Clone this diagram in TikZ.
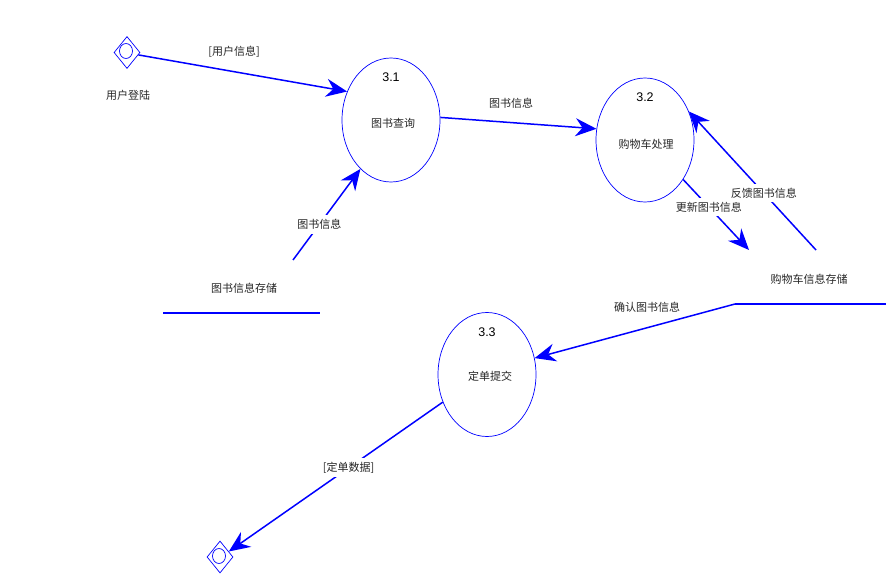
\documentclass[tikz,border=0pt]{standalone}
\usepackage{fontspec}
\setmainfont{Liberation Sans}
\newfontfamily\cjk{Noto Sans CJK SC}
\usepackage{xcolor}
\definecolor{dfdblue}{RGB}{0,0,255}
\usepackage{tikz}
\usetikzlibrary{arrows.meta,positioning,shapes.geometric}

\begin{document}
\begin{tikzpicture}[
      x=1pt, y=-1pt,
      font=\fontsize{11}{13}\selectfont\cjk,
      proc/.style={draw=dfdblue, ellipse, line width=0.7pt, inner sep=0pt,
                   minimum width=98pt, minimum height=124pt},
      term/.style={draw=dfdblue, diamond, line width=0.7pt, inner sep=0pt,
                   minimum width=26pt, minimum height=32pt},
      termdot/.style={draw=dfdblue, ellipse, line width=0.7pt, inner sep=0pt,
                   minimum width=13pt, minimum height=15pt},
      number/.style={font=\fontsize{12.5}{14}\selectfont\rmfamily},
      label/.style={text=black!85, inner sep=0pt},
      flowlabel/.style={text=black!85, fill=white, inner xsep=0pt, inner ysep=4pt},
      arrow/.style={-{Stealth[length=21pt,width=18pt,inset=7pt]}, line width=1.5pt, color=dfdblue},
      storeline/.style={line width=1.5pt, color=dfdblue}
  ]
  \useasboundingbox (0,0) rectangle (896,585);

  % processes
  \node[proc] (p31) at (391,120) {};
  \node[proc] (p32) at (645,140) {};
  \node[proc] (p33) at (487,374.5) {};
  \node[number, below=12pt of p31.north] (n31) {3.1};
  \node[number, below=12pt of p32.north] (n32) {3.2};
  \node[number, below=12pt of p33.north] (n33) {3.3};
  \node[label] (t31) at (393,123) {图书查询};
  \node[label] (t32) at (646,144) {购物车处理};
  \node[label] (t33) at (490,376) {定单提交};

  % terminators
  \node[term] (login) at (127,52.5) {};
  \node[termdot] (logindot) at (126,51) {};
  \node[label] (tlogin) at (128,95) {用户登陆};
  \node[term] (order) at (220,557) {};
  \node[termdot] (orderdot) at (219,556) {};

  % stores
  \coordinate (bookl) at (163,313);
  \coordinate (bookr) at (320,313);
  \coordinate (bookout) at (293,260);
  \node[label] (tbook) at (244,288) {图书信息存储};
  \coordinate (cartl) at (735,304);
  \coordinate (cartr) at (886,304);
  \coordinate (cartin) at (749,250);
  \coordinate (cartout) at (816,250);
  \node[label] (tcart) at (809,279) {购物车信息存储};
  \draw[storeline] (bookl) -- (bookr);
  \draw[storeline] (cartl) -- (cartr);

  % flows
  \draw[arrow] (login.-12) -- (p31.147);
  \node[label] (f1) at (234,52) {[用户信息]};
  \draw[arrow] (p31.3) -- (p32.167);
  \node[label] (f2) at (511,103) {图书信息};
  \draw[arrow] (bookout) -- node[flowlabel, pos=0.39]{图书信息} (p31.238);
  \draw[arrow] (p32.-46) -- node[flowlabel, pos=0.39]{更新图书信息} (cartin);
  \draw[arrow] (cartout) -- node[flowlabel, pos=0.41]{反馈图书信息} (p32.33);
  \draw[arrow] (cartl) -- (p33.19);
  \node[label] (f3) at (647,307) {确认图书信息};
  \draw[arrow] (p33.212) -- node[flowlabel, pos=0.44]{[定单数据]} (order.32);
\end{tikzpicture}
\end{document}
